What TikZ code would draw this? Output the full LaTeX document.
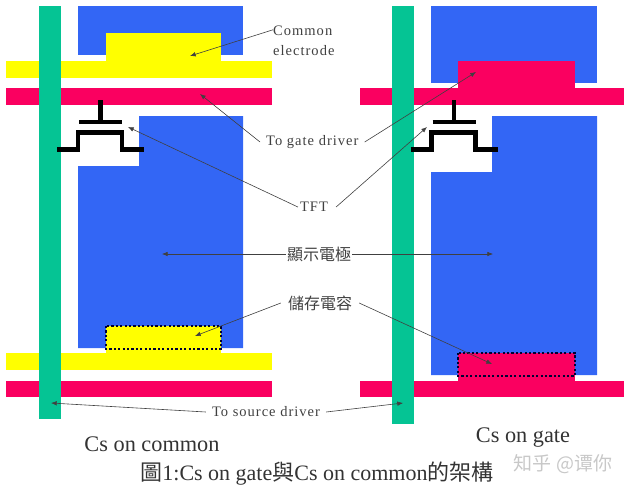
\documentclass[tikz,border=0pt]{standalone}
\usepackage{fontspec}
\setmainfont{Liberation Serif}
\newfontfamily\labelfont[LetterSpace=7]{Liberation Serif}
\newfontfamily\cjk{Noto Sans CJK TC}
\newfontfamily\cjksc{Noto Sans CJK SC}
\usetikzlibrary{positioning,arrows.meta}
\definecolor{pixelblue}{HTML}{3366F5}
\definecolor{gateline}{HTML}{FA0060}
\definecolor{sourceline}{HTML}{05C494}
\definecolor{commonline}{HTML}{FFFF00}
\definecolor{wmgray}{HTML}{C8C8C8}
\tikzset{
  label text/.style={inner sep=0pt, align=left, font=\labelfont\fontsize{14.5}{20}\selectfont, text=black!75},
  cjk text/.style={inner sep=1pt, font=\cjk\fontsize{16}{18}\selectfont, text=black!75},
  title text/.style={inner sep=0pt, font=\fontsize{22.3}{24}\selectfont, text=black!80},
  pointer/.style={-{Latex[length=2mm,width=1.6mm]}, semithick, black!75},
  tft/.style={line width=4.4pt, black},
  storage/.style={line width=2.2pt, dash pattern=on 2.2pt off 2.2pt, black!80!blue}
}
\begin{document}
\begin{tikzpicture}[x=1pt,y=-1pt]
  \useasboundingbox (0,0) rectangle (629,491);
  % left pixel, Cs on common
  \fill[pixelblue] (78,6) rectangle (243,55);
  \fill[pixelblue] (139,116) -- (243,116) -- (243,348) -- (78,348) -- (78,166) -- (139,166) -- cycle;
  \fill[commonline] (106,33) rectangle (221,61);
  \fill[commonline] (106,326) rectangle (221,353);
  \foreach \y/\h in {61/78,353/370}{\fill[commonline] (6,\y) rectangle (272,\h);}
  \foreach \y/\h in {88/105,381/397}{\fill[gateline] (6,\y) rectangle (272,\h);}
  \fill[sourceline] (39,6) rectangle (61,419);
  \draw[storage] (106,326) rectangle (221,349);
  % right pixel, Cs on gate
  \fill[pixelblue] (431,6) rectangle (597,83);
  \fill[pixelblue] (492,116) -- (597,116) -- (597,375) -- (431,375) -- (431,172) -- (492,172) -- cycle;
  \fill[gateline] (458,61) rectangle (575,88);
  \fill[gateline] (458,353) rectangle (575,381);
  \foreach \y/\h in {88/105,381/397}{\fill[gateline] (360,\y) rectangle (624,\h);}
  \fill[sourceline] (392,6) rectangle (414,424);
  \draw[storage] (458,353) rectangle (575,376);
  % transistors
  \foreach \x in {0,353.5}{
    \draw[tft] (100.5+\x,100) -- (100.5+\x,122);
    \draw[tft] (79+\x,122) -- (122+\x,122);
    \draw[tft] (57+\x,149.5) -- (78+\x,149.5) -- (78+\x,132.5) -- (122+\x,132.5) -- (122+\x,149.5) -- (144+\x,149.5);
  }
  % labels
  \node[label text, anchor=west] (common) at (273,41) {Common\\electrode};
  \node[label text, anchor=west] (gatedrv) at (266,142) {To gate driver};
  \node[label text] (tftlabel) at (314,207) {TFT};
  \node[cjk text] (pixel) at (319,254) {顯示電極};
  \node[cjk text] (storagecap) at (320,303) {儲存電容};
  \node[label text] (sourcedrv) at (266,412) {To source driver};
  \node[title text] (oncommon) at (152,444) {Cs on common};
  \node[title text] (ongate) at (523,438) {Cs on gate};
  \node[inner sep=0pt, font=\fontsize{22}{24}\selectfont, text=black!80] (caption) at (317,474) {{\cjk 圖}1:Cs on gate{\cjk 與}Cs on common{\cjk 的架構}};
  \node[inner sep=0pt, font=\cjksc\fontsize{19}{21}\selectfont, text=wmgray] (mark) at (563,464) {知乎 @谭你};
  % connectors
  \coordinate (commonhit) at (190,56);
  \coordinate (gatehitl) at (200,94);
  \coordinate (gatehitr) at (476,72);
  \coordinate (tfthitl) at (128,127);
  \coordinate (tfthitr) at (427,127);
  \coordinate (pixelhitl) at (162,254);
  \coordinate (pixelhitr) at (493,254);
  \coordinate (caphitl) at (195,336);
  \coordinate (caphitr) at (492,364);
  \coordinate (sourcehitl) at (51,403);
  \coordinate (sourcehitr) at (403,403);
  \draw[pointer] (common.160) -- (commonhit);
  \draw[pointer] ([xshift=-6pt]gatedrv.west) -- (gatehitl);
  \draw[pointer] ([xshift=6pt]gatedrv.east) -- (gatehitr);
  \draw[pointer] ([xshift=-2pt]tftlabel.west) -- (tfthitl);
  \draw[pointer] ([xshift=8pt]tftlabel.east) -- (tfthitr);
  \draw[pointer] (pixel.west) -- (pixelhitl);
  \draw[pointer] (pixel.east) -- (pixelhitr);
  \draw[pointer] ([xshift=-6pt]storagecap.west) -- (caphitl);
  \draw[pointer] ([xshift=6pt]storagecap.east) -- (caphitr);
  \draw[pointer] ([xshift=-6pt]sourcedrv.west) -- (sourcehitl);
  \draw[pointer] ([xshift=6pt]sourcedrv.east) -- (sourcehitr);
\end{tikzpicture}
\end{document}
